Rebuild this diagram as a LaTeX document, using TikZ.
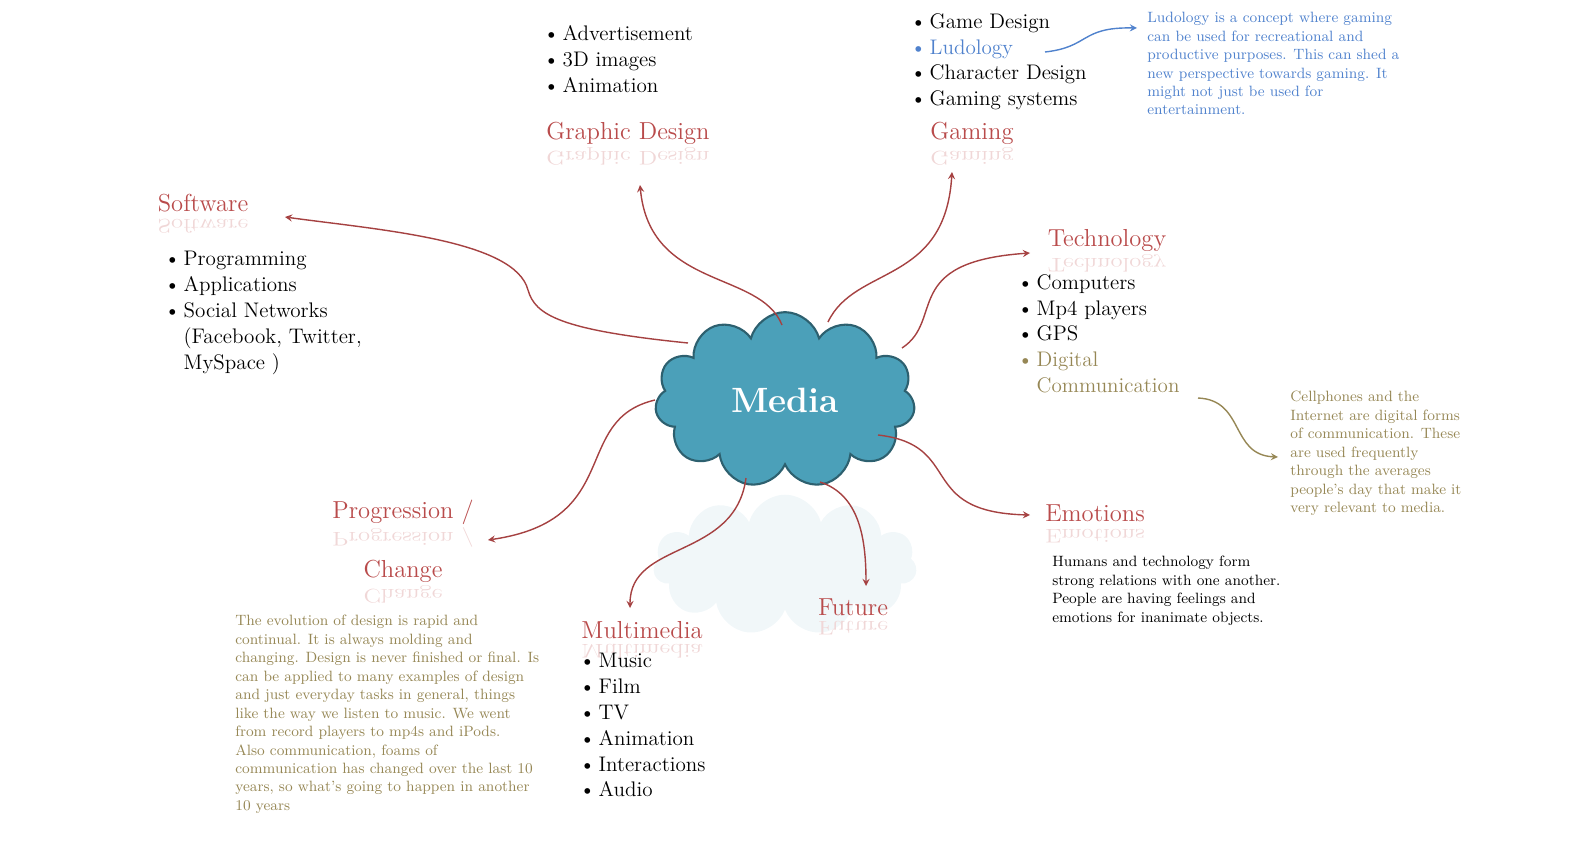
\documentclass[tikz,border=0pt]{standalone}
\usetikzlibrary{shapes.symbols}
\definecolor{titlered}{RGB}{185,75,75}
\definecolor{arrowred}{RGB}{165,65,65}
\definecolor{cloudteal}{RGB}{75,160,185}
\definecolor{ludoblue}{RGB}{80,130,205}
\definecolor{olive}{RGB}{150,135,85}
\newcommand{\itm}{\makebox[11pt][l]{\textbullet}}
\newcommand{\ind}{\hspace*{11pt}}
\tikzset{
  title/.style={text=titlered,font=\fontsize{14}{16}\selectfont,inner sep=0pt},
  mirror/.style={text=titlered!22,font=\fontsize{14}{16}\selectfont,inner sep=0pt,yscale=-0.8},
  list/.style={anchor=north west,align=left,inner sep=0pt,font=\fontsize{12}{14.7}\selectfont},
  note/.style={anchor=north west,align=left,inner sep=0pt,font=\fontsize{8.5}{10.5}\selectfont},
  link/.style={arrowred,thick,-stealth},
}
\begin{document}
\begin{tikzpicture}[x=0.02cm,y=-0.02cm]
\useasboundingbox (0,0) rectangle (1572,842);

% shadow of the cloud
\node[cloud,cloud puffs=11,aspect=1.8,minimum width=150,minimum height=80,
  fill=cloudteal!8] (shade) at (785,565) {};

% central cloud
\node[cloud,cloud puffs=11,aspect=1.6,minimum width=148,minimum height=100,
  fill=cloudteal,draw=cloudteal!60!black,line width=1.2pt,text=white,
  font=\fontsize{20}{24}\selectfont\bfseries] (media) at (785,400) {Media};

% start points on the cloud
\coordinate (sSoft) at (688,343);
\coordinate (sGraph) at (782,325);
\coordinate (sGame) at (828,322);
\coordinate (sTech) at (902,348);
\coordinate (sEmo) at (878,435);
\coordinate (sFut) at (820,482);
\coordinate (sMulti) at (746,478);
\coordinate (sProg) at (655,400);

% titles and mirrored titles
\node[title] (soft) at (203,203) {Software};
\node[mirror] at (203,226) {Software};
\node[title] (graph) at (628,133) {Graphic Design};
\node[mirror] at (628,156) {Graphic Design};
\node[title] (game) at (972,133) {Gaming};
\node[mirror] at (972,156) {Gaming};
\node[title] (tech) at (1107,240) {Technology};
\node[mirror] at (1107,263) {Technology};
\node[title] (emo) at (1095,513) {Emotions};
\node[mirror] at (1095,536) {Emotions};
\node[title] (fut) at (853,607) {Future};
\node[mirror] at (853,628) {Future};
\node[title] (multi) at (642,630) {Multimedia};
\node[mirror] at (642,651) {Multimedia};
\node[title] (prog) at (403,512) {Progression /};
\node[mirror] at (403,537) {Progression /};
\node[title] (chg) at (403,571) {Change};
\node[mirror] at (403,594) {Change};

% end points of the connectors
\coordinate (eSoft) at (285,217);
\coordinate (eGraph) at (640,185);
\coordinate (eGame) at (952,172);
\coordinate (eTech) at (1030,253);
\coordinate (eEmo) at (1030,515);
\coordinate (eFut) at (866,586);
\coordinate (eMulti) at (630,608);
\coordinate (eProg) at (488,540);

% bullet lists
\node[list] (glist) at (543,25) {\itm Advertisement\\ \itm 3D images\\ \itm Animation};
\node[list] (gmlist) at (910,13) {\itm Game Design\\ \textcolor{ludoblue}{\itm Ludology}\\
  \itm Character Design\\ \itm Gaming systems};
\node[list] (slist) at (164,251) {\itm Programming\\ \itm Applications\\ \itm Social Networks\\
  \ind(Facebook, Twitter,\\ \ind MySpace )};
\node[list] (tlist) at (1017,274) {\itm Computers\\ \itm Mp4 players\\ \itm GPS\\
  \textcolor{olive}{\itm Digital}\\ \ind\textcolor{olive}{Communication}};
\node[list] (mlist) at (579,653) {\itm Music\\ \itm Film\\ \itm TV\\ \itm Animation\\
  \itm Interactions\\ \itm Audio};

% notes
\node[note,text=ludoblue] (lnote) at (1147,12) {Ludology is a concept where gaming\\
  can be used for recreational and\\ productive purposes. This can shed a\\
  new perspective towards gaming. It\\ might not just be used for\\ entertainment.};
\node[note,text=olive] (cnote) at (1290,391) {Cellphones and the\\ Internet are digital forms\\
  of communication. These\\ are used frequently\\ through the averages\\
  people's day that make it\\ very relevant to media.};
\node[note] (enote) at (1052,556) {Humans and technology form\\ strong relations with one another.\\
  People are having feelings and\\ emotions for inanimate objects.};
\node[note,text=olive] (pnote) at (235,615) {The evolution of design is rapid and\\
  continual. It is always molding and\\ changing. Design is never finished or final. Is\\
  can be applied to many examples of design\\ and just everyday tasks in general, things\\
  like the way we listen to music. We went\\ from record players to mp4s and iPods.\\
  Also communication, foams of\\ communication has changed over the last 10\\
  years, so what's going to happen in another\\ 10 years};

% connectors from the cloud
\draw[link] (sSoft) .. controls (560,330) and (535,315) .. (528,290)
  .. controls (515,240) and (380,230) .. (eSoft);
\draw[link] (sGraph) .. controls (760,270) and (650,290) .. (eGraph);
\draw[link] (sGame) .. controls (855,265) and (945,285) .. (eGame);
\draw[link] (sTech) .. controls (945,320) and (900,262) .. (eTech);
\draw[link] (sEmo) .. controls (965,445) and (915,512) .. (eEmo);
\draw[link] (sFut) .. controls (860,495) and (866,540) .. (eFut);
\draw[link] (sMulti) .. controls (735,560) and (630,540) .. (eMulti);
\draw[link] (sProg) .. controls (570,420) and (625,520) .. (eProg);

% note arrows
\coordinate (lFrom) at (1045,52);
\coordinate (lTo) at (1137,28);
\coordinate (cFrom) at (1198,398);
\coordinate (cTo) at (1278,457);
\draw[ludoblue,thick,-stealth] (lFrom) .. controls (1090,47) and (1080,27) .. (lTo);
\draw[olive,thick,-stealth] (cFrom) .. controls (1245,400) and (1230,455) .. (cTo);
\end{tikzpicture}
\end{document}
